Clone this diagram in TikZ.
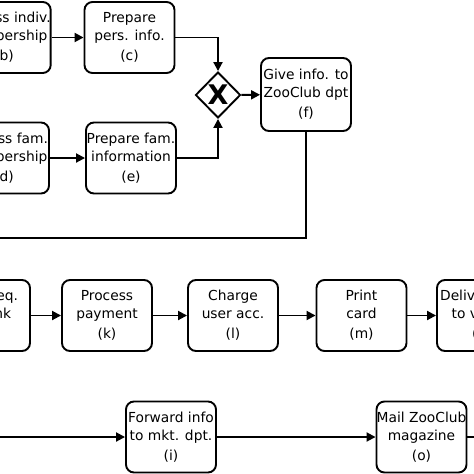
\documentclass[tikz,border=0pt]{standalone}
\usepackage{fontspec}
\setmainfont{DejaVu Sans}
\usepackage{tikz}
\usetikzlibrary{shapes, arrows.meta}
\tikzset{>={Triangle[length=9pt,width=9pt]}}
\tikzset{task/.style={draw, rounded corners=8pt, line width=1.9pt, minimum width=90pt, minimum height=71pt, inner xsep=0pt, align=center, font=\fontsize{13.8}{18}\selectfont},
gate/.style={diamond, draw, line width=1.9pt, minimum width=45pt, minimum height=46pt, inner sep=0pt, font=\fontsize{27}{27}\selectfont\bfseries}}

\begin{document}
\begin{tikzpicture}[x=1pt, y=-1pt]
\useasboundingbox (0,0) rectangle (474,474);
\clip (0,0) rectangle (474,474);
% membership requests
\node[task] (b) at (4,37.5) {Process indiv.\\membership\\[2pt](b)};
\node[task] (c) at (129.5,37.5) {Prepare\\pers. info.\\[2pt](c)};
\node[task] (d) at (4,158) {Process fam.\\membership\\[2pt](d)};
\node[task] (e) at (131,158) {Prepare fam.\\information\\[2pt](e)};
\node[gate] (g) at (218,95) {X};
\node[task, minimum height=73pt] (f) at (306,94.5) {Give info. to\\ZooClub dpt\\[2pt](f)};
\coordinate (fout) at (-20,238);
% payment
\node[task] (j) at (-15,315.5) {Send req.\\to bank\\[2pt](j)};
\node[task] (k) at (107,315.5) {Process\\payment\\[2pt](k)};
\node[task] (l) at (233,315.5) {Charge\\user acc.\\[2pt](l)};
\node[task] (m) at (361.5,315.5) {Print\\card\\[2pt](m)};
\node[task] (n) at (482,315.5) {Deliver card\\to visitor\\[2pt](n)};
% marketing
\coordinate (h) at (-20,437);
\node[task] (i) at (171,437) {Forward info\\to mkt. dpt.\\[2pt](i)};
\node[task] (o) at (421.5,437) {Mail ZooClub\\magazine\\[2pt](o)};
\coordinate (oout) at (500,437);

\path[->, line width=1.9pt]
(b) edge (c)
(d) edge (e)
(g) edge (f)
(j) edge (k)
(k) edge (l)
(l) edge (m)
(m) edge (n)
(h) edge (i)
(i) edge (o)
;
\draw[->, line width=1.9pt] (c.east) -| (g.north);
\draw[->, line width=1.9pt] (e.east) -| (g.south);
\draw[line width=1.9pt] (f.south) |- (fout);
\draw[line width=1.9pt] (o) -- (oout);
\end{tikzpicture}
\end{document}
